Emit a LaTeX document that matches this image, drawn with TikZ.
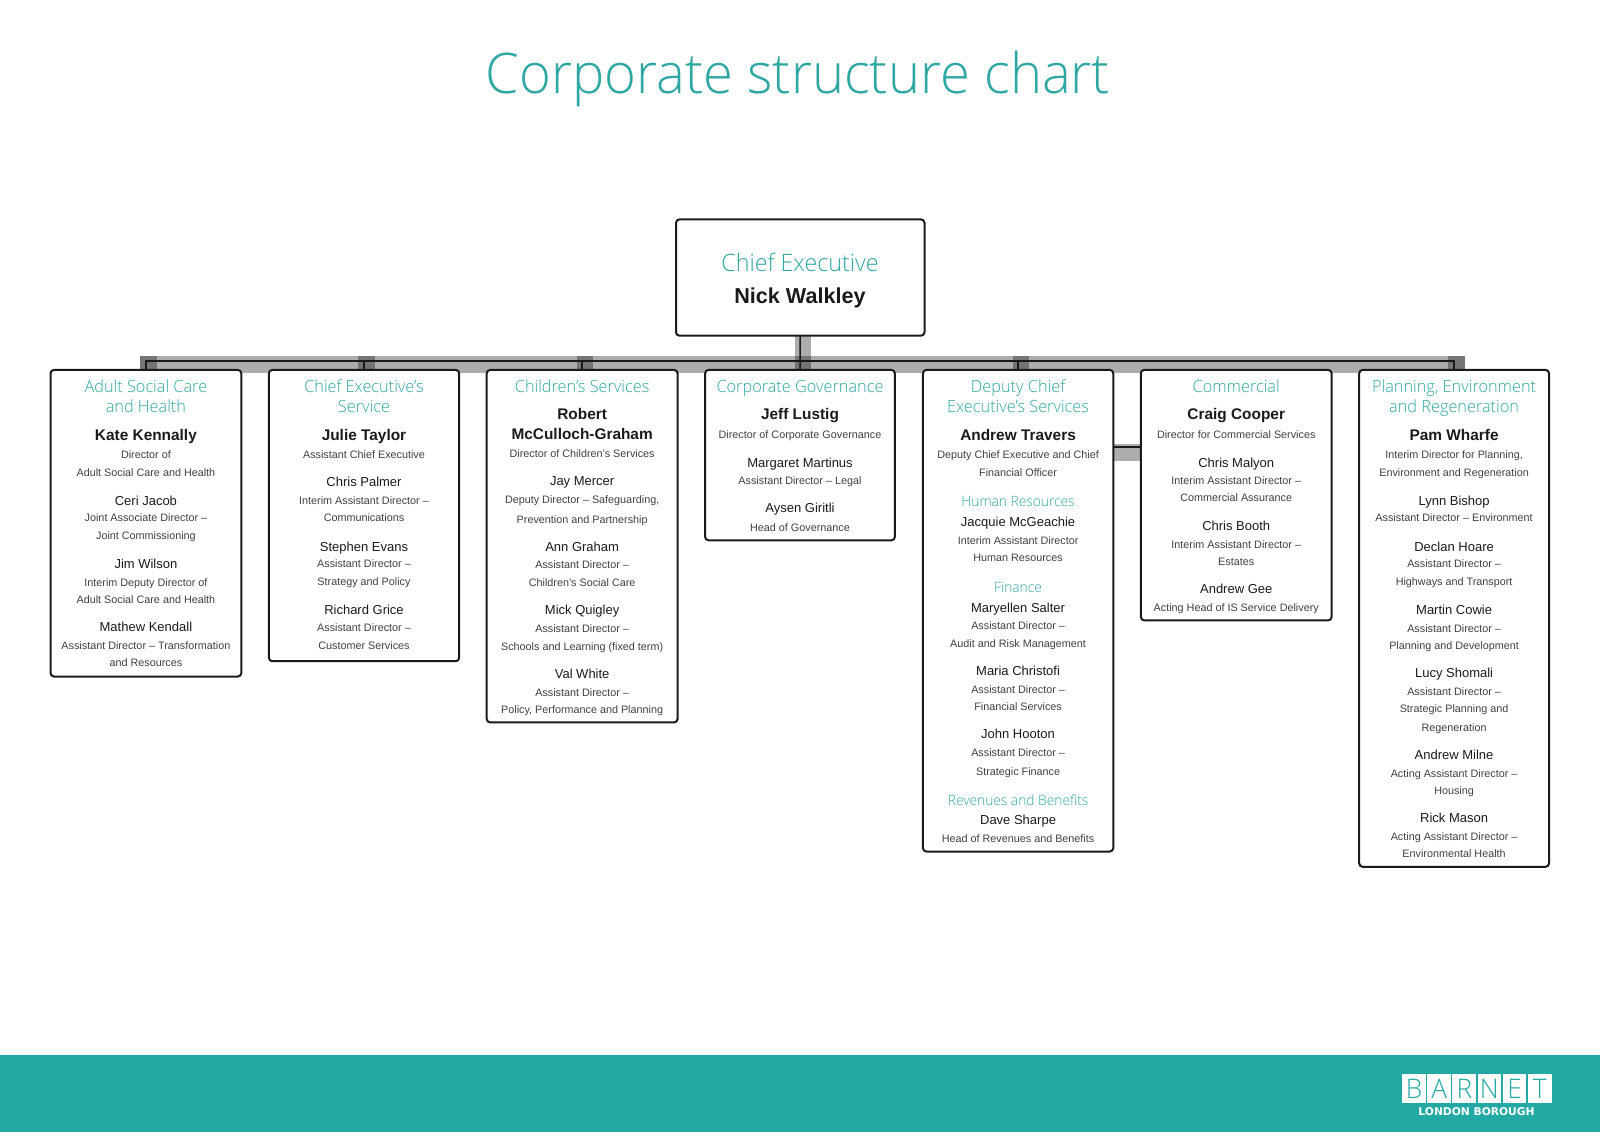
\documentclass[tikz,border=0pt]{standalone}
\usepackage{fontspec}
\setmainfont{Liberation Sans}
\newfontfamily\lightfont[FakeStretch=0.97]{Open Sans Light}
\newfontfamily\logofont{Open Sans}
\newfontfamily\logobold{DejaVu Sans Bold}
\definecolor{barnet}{HTML}{23A9A4}
\definecolor{tealtxt}{HTML}{2FA7A2}
\definecolor{inkc}{HTML}{1A1A1A}
\definecolor{rolec}{HTML}{404040}
\newcounter{lnum}
\def\cx{0}
\newcommand\txT[2]{\stepcounter{lnum}\node[headline] (l\arabic{lnum}) at (\cx,#1) {#2};}
\newcommand\txS[2]{\stepcounter{lnum}\node[subhead] (l\arabic{lnum}) at (\cx,#1) {#2};}
\newcommand\txB[2]{\stepcounter{lnum}\node[boldname] (l\arabic{lnum}) at (\cx,#1) {#2};}
\newcommand\txN[2]{\stepcounter{lnum}\node[plainname] (l\arabic{lnum}) at (\cx,#1) {#2};}
\newcommand\txR[2]{\stepcounter{lnum}\node[roleline] (l\arabic{lnum}) at (\cx,#1) {#2};}
\newcommand\orgbox[5]{%
  \pgfmathsetmacro\bw{(#3-#2)*1.0204}\pgfmathsetmacro\bh{(#5-#4)*1.0204}%
  \pgfmathsetmacro\bcx{(#2+#3)/2}\pgfmathsetmacro\bcy{(#4+#5)/2}%
  \node[orgbx,minimum width=\bw pt,minimum height=\bh pt] (#1) at (\bcx,\bcy) {};}
\tikzset{
  orgbx/.style={draw=inkc,fill=white,line width=2pt,rounded corners=3.5pt,inner sep=0pt,outer sep=0pt},
  linetext/.style={anchor=mid,inner sep=0pt,outer sep=0pt},
  headline/.style={linetext,yshift=-4pt,text=tealtxt,font=\lightfont\fontsize{16.8}{18}\selectfont},
  subhead/.style={linetext,yshift=-3pt,text=tealtxt,font=\lightfont\fontsize{14.2}{16}\selectfont},
  boldname/.style={linetext,yshift=-3pt,text=inkc,font=\bfseries\fontsize{15.4}{18}\selectfont},
  plainname/.style={linetext,yshift=-2.5pt,text=inkc,font=\fontsize{13}{15}\selectfont},
  roleline/.style={linetext,yshift=-2pt,text=rolec,font=\fontsize{10.8}{12}\selectfont},
  shadowband/.style={fill=black,fill opacity=.32},
  link/.style={draw=inkc,line width=1.5pt},
}
\begin{document}
\begin{tikzpicture}[x=1.0204pt,y=-1.0204pt]
\useasboundingbox (0,0) rectangle (1568,1109.4);
\fill[white] (0,0) rectangle (1568,1109.4);
\fill[barnet] (0,1034) rectangle (1568,1109.4);
\node[anchor=mid,inner sep=0pt,yshift=-17pt,text=tealtxt,font=\lightfont\fontsize{56}{60}\selectfont] (title) at (782,72) {Corporate structure chart};
\begin{scope}[opacity=0]
\orgbox{ce}{662.5}{906}{215}{329}
\orgbox{b1}{49.5}{236.5}{362.5}{663}
\orgbox{b2}{263.5}{450}{362.5}{648}
\orgbox{b3}{477}{664}{362.5}{708}
\orgbox{b4}{691}{877}{362.5}{529.5}
\orgbox{b5}{904.5}{1091}{362.5}{834.5}
\orgbox{b6}{1118}{1305}{362.5}{608}
\orgbox{b7}{1332}{1518}{362.5}{849.5}
\end{scope}
\coordinate (busy) at (0,354);
\coordinate (sidey) at (0,438);
\fill[shadowband] (137.5,349) rectangle (1436,366);
\fill[shadowband] ([shift={(-5.5,0)}]ce.south) rectangle ([shift={(11,33.5)}]ce.south);
\foreach \b in {b1,b2,b3,b5,b7}{
  \fill[shadowband] ([shift={(-5.5,-13.5)}]\b.north) rectangle ([shift={(11,0)}]\b.north);
}
\fill[shadowband] (b5.east |- 0,435) rectangle (b6.west |- 0,452);
\draw[link] (b1.north) -- (b1.north |- busy) -- (b7.north |- busy) -- (b7.north);
\foreach \b in {b2,b3,b5}{\draw[link] (\b.north) -- (\b.north |- busy);}
\draw[link] (ce.south) -- (b4.north);
\draw[link] (b5.east |- sidey) -- (b6.west |- sidey);
\orgbox{ce}{662.5}{906}{215}{329}
\orgbox{b1}{49.5}{236.5}{362.5}{663}
\orgbox{b2}{263.5}{450}{362.5}{648}
\orgbox{b3}{477}{664}{362.5}{708}
\orgbox{b4}{691}{877}{362.5}{529.5}
\orgbox{b5}{904.5}{1091}{362.5}{834.5}
\orgbox{b6}{1118}{1305}{362.5}{608}
\orgbox{b7}{1332}{1518}{362.5}{849.5}
\def\cx{784}
\node[linetext,yshift=-7pt,text=tealtxt,font=\lightfont\fontsize{24}{26}\selectfont] (cetitle) at (\cx,257) {Chief Executive};
\node[linetext,yshift=-5pt,text=inkc,font=\bfseries\fontsize{21.6}{24}\selectfont] (cename) at (\cx,290) {Nick Walkley};
\def\cx{143}
\txT{378}{Adult Social Care}\txT{398}{and Health}\txB{426}{Kate Kennally}
\txR{445}{Director of}\txR{462}{Adult Social Care and Health}
\txN{490}{Ceri Jacob}\txR{507}{Joint Associate Director –}\txR{524}{Joint Commissioning}
\txN{552}{Jim Wilson}\txR{570}{Interim Deputy Director of}\txR{587}{Adult Social Care and Health}
\txN{614}{Mathew Kendall}\txR{632}{Assistant Director – Transformation}\txR{649}{and Resources}
\def\cx{356.7}
\txT{378}{Chief Executive’s}\txT{398}{Service}\txB{426}{Julie Taylor}
\txR{445}{Assistant Chief Executive}
\txN{472}{Chris Palmer}\txR{490}{Interim Assistant Director –}\txR{507}{Communications}
\txN{535}{Stephen Evans}\txR{552}{Assistant Director –}\txR{569}{Strategy and Policy}
\txN{597}{Richard Grice}\txR{614}{Assistant Director –}\txR{632}{Customer Services}
\def\cx{570.5}
\txT{378}{Children’s Services}\txB{406}{Robert}\txB{425}{McCulloch-Graham}
\txR{444}{Director of Children’s Services}
\txN{471}{Jay Mercer}\txR{489}{Deputy Director – Safeguarding,}\txR{508}{Prevention and Partnership}
\txN{535}{Ann Graham}\txR{553}{Assistant Director –}\txR{570}{Children’s Social Care}
\txN{597}{Mick Quigley}\txR{615}{Assistant Director –}\txR{633}{Schools and Learning (fixed term)}
\txN{660}{Val White}\txR{678}{Assistant Director –}\txR{695}{Policy, Performance and Planning}
\def\cx{784}
\txT{378}{Corporate Governance}\txB{406}{Jeff Lustig}
\txR{425}{Director of Corporate Governance}
\txN{453}{Margaret Martinus}\txR{470}{Assistant Director – Legal}
\txN{497}{Aysen Giritli}\txR{516}{Head of Governance}
\def\cx{997.7}
\txT{378}{Deputy Chief}\txT{398}{Executive’s Services}\txB{426}{Andrew Travers}
\txR{445}{Deputy Chief Executive and Chief}\txR{462}{Financial Officer}
\txS{491}{Human Resources}\txN{511}{Jacquie McGeachie}\txR{529}{Interim Assistant Director}\txR{546}{Human Resources}
\txS{575}{Finance}\txN{595}{Maryellen Salter}\txR{612}{Assistant Director –}\txR{630}{Audit and Risk Management}
\txN{657}{Maria Christofi}\txR{675}{Assistant Director –}\txR{692}{Financial Services}
\txN{719}{John Hooton}\txR{737}{Assistant Director –}\txR{755}{Strategic Finance}
\txS{784}{Revenues and Benefits}\txN{803}{Dave Sharpe}\txR{821}{Head of Revenues and Benefits}
\def\cx{1211.5}
\txT{378}{Commercial}\txB{406}{Craig Cooper}\txR{425}{Director for Commercial Services}
\txN{453}{Chris Malyon}\txR{470}{Interim Assistant Director –}\txR{487}{Commercial Assurance}
\txN{515}{Chris Booth}\txR{533}{Interim Assistant Director –}\txR{550}{Estates}
\txN{577}{Andrew Gee}\txR{595}{Acting Head of IS Service Delivery}
\def\cx{1425}
\txT{378}{Planning, Environment}\txT{398}{and Regeneration}\txB{426}{Pam Wharfe}
\txR{445}{Interim Director for Planning,}\txR{462}{Environment and Regeneration}
\txN{490}{Lynn Bishop}\txR{507}{Assistant Director – Environment}
\txN{535}{Declan Hoare}\txR{552}{Assistant Director –}\txR{569}{Highways and Transport}
\txN{597}{Martin Cowie}\txR{615}{Assistant Director –}\txR{632}{Planning and Development}
\txN{659}{Lucy Shomali}\txR{677}{Assistant Director –}\txR{694}{Strategic Planning and}\txR{712}{Regeneration}
\txN{739}{Andrew Milne}\txR{757}{Acting Assistant Director –}\txR{774}{Housing}
\txN{801}{Rick Mason}\txR{819}{Acting Assistant Director –}\txR{836}{Environmental Health}
\foreach \ch [count=\i from 0] in {B,A,R,N,E,T}{
  \node[fill=white,text=barnet,inner sep=0pt,outer sep=0pt,minimum width=23.8pt,minimum height=28.5pt,font=\lightfont\fontsize{27}{27}\selectfont] (logo\i) at ({1385.8+\i*24.6},1066.9) {\ch};
}
\node[anchor=mid,inner sep=0pt,yshift=-2pt,text=white,font=\logobold\fontsize{10.7}{10}\selectfont] (logotext) at (1447,1088.5) {LONDON BOROUGH};
\end{tikzpicture}
\end{document}
